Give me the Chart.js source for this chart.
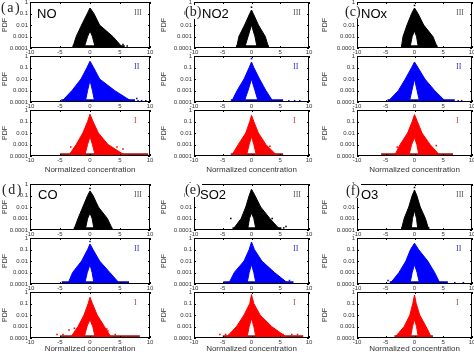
<!DOCTYPE html>
<html><head><meta charset="utf-8">
<script src="https://cdn.jsdelivr.net/npm/chart.js@4"></script>
<style>
body{margin:0;width:474px;height:355px;overflow:hidden;background:#fff;position:relative;}
canvas{position:absolute;}
.t{position:absolute;white-space:nowrap;}
.let{font-family:"Liberation Serif","DejaVu Serif",serif;font-size:14px;line-height:14px;color:#222;background:#fff;padding:0 1px 0 0;}
.sp{font-family:"Liberation Sans",Arial,sans-serif;font-size:13px;line-height:13px;color:#000;}
.rn{font-family:"Liberation Serif",serif;font-size:8px;line-height:8px;}
</style></head><body>
<script>
// ---- axis ticks ----
const xTickValues = [-10, -5, 0, 5, 10];
const xTickLabels = ['-10', '-5', '0', '5', '10'];
const yTickValues = [0.0001, 0.001, 0.01, 0.1, 1];
const yTickLabels = ['0.0001', '0.001', '0.01', '0.1', '1'];
// PDF levels at which the cloud edges were read
const levels = [0.1, 0.01, 0.001, 0.0001];

const panelLetters = ['(a)', '(b)', '(c)', '(d)', '(e)', '(f)'];
const species = ['NO', 'NO2', 'NOx', 'CO', 'SO2', 'O3'];
const regimes = ['III', 'II', 'I'];

// ---- read-off cloud outlines: outer edges (oL,oR) & inner notch (iL,iR) ----
const NO_III  = {peak:0.3,  oL:[-0.45,-1.4,-2.3,-2.9], oR:[0.65,1.6,3.8,5.5], apex:0.003, iL:[-0.4,-1.0], iR:[0.4,0.9], floor:[-2.9,5.8], extra:[[6.2,0.00015],[5.5,0.0002]]};
const NO_II   = {peak:0.35, oL:[-0.5,-1.5,-3.0,-4.8],  oR:[0.6,1.6,4.1,7.1],  apex:0.008, iL:[-0.4,-0.8], iR:[0.4,0.8], floor:[-4.8,7.5], extra:[[8.0,0.00013],[8.6,0.00013],[9.3,0.00013],[7.8,0.0002]]};
const NO_I    = {peak:0.43, oL:[-0.4,-1.2,-2.3,-3.6],  oR:[0.5,1.4,3.0,6.0],  apex:0.005, iL:[-0.4,-0.9], iR:[0.4,0.9], floor:[-5.0,9.7], extra:[[4.5,0.0006],[5.5,0.0004],[-3.2,0.0006]]};
const NO2_III = {peak:0.2,  oL:[-0.3,-1.2,-2.2,-2.6],  oR:[0.3,1.2,2.4,3.0],  apex:0.01,  iL:[-0.6,-1.2], iR:[0.6,1.0], floor:[-2.7,3.0], extra:[[0,0.35]]};
const NO2_II  = {peak:0.3,  oL:[-0.4,-1.3,-2.5,-3.5],  oR:[0.4,1.4,2.5,3.8],  apex:0.01,  iL:[-0.6,-1.3], iR:[0.6,1.2], floor:[-3.6,5.5], extra:[[6.5,0.00013],[7.5,0.00013],[8.4,0.00013],[0,0.6]]};
const NO2_I   = {peak:0.35, oL:[-0.3,-1.0,-2.3,-3.5],  oR:[0.4,1.2,2.5,4.5],  apex:0.005, iL:[-0.4,-0.9], iR:[0.4,0.9], floor:[-3.6,5.5], extra:[[3.2,0.0007]]};
const NOx_III = {peak:0.3,  oL:[-0.5,-1.3,-2.0,-2.3],  oR:[0.6,1.6,3.2,4.0],  apex:0.003, iL:[-0.4,-0.8], iR:[0.35,0.7], floor:[-2.3,4.0], extra:[[0,0.5]]};
const NOx_II  = {peak:0.3,  oL:[-0.5,-1.6,-2.8,-4.7],  oR:[0.6,1.8,3.5,5.5],  apex:0.01,  iL:[-0.45,-0.9], iR:[0.45,0.9], floor:[-4.7,7.0], extra:[[7.6,0.00013],[8.2,0.00013]]};
const NOx_I   = {peak:0.4,  oL:[-0.4,-1.2,-2.5,-3.5],  oR:[0.5,1.3,2.7,4.5],  apex:0.004, iL:[-0.5,-1.0], iR:[0.4,0.8], floor:[-5.8,6.7], extra:[[3.8,0.0008],[-3.0,0.0006]]};
const CO_III  = {peak:0.25, oL:[-0.4,-1.2,-2.0,-2.7],  oR:[0.5,1.4,2.9,3.8],  apex:0.003, iL:[-0.4,-0.8], iR:[0.35,0.7], floor:[-2.7,3.7], extra:[[0,0.4],[3.0,0.0003]]};
const CO_II   = {peak:0.3,  oL:[-0.4,-1.4,-2.9,-3.7],  oR:[0.5,1.6,3.3,5.0],  apex:0.005, iL:[-0.45,-0.9], iR:[0.35,0.7], floor:[-4.7,6.5], extra:[[0,0.5]]};
const CO_I    = {peak:0.35, oL:[-0.3,-1.0,-2.0,-3.3],  oR:[0.4,1.2,2.4,3.6],  apex:0.004, iL:[-0.5,-1.0], iR:[0.45,0.9], floor:[-5.0,8.3], extra:[[-3.5,0.0005],[-4.5,0.0002],[-5.5,0.0002],[4.2,0.0002],[2.8,0.0006],[3.0,0.0004],[-2.6,0.0007]]};
const SO2_III = {peak:0.35, oL:[-0.4,-1.0,-1.8,-3.3],  oR:[0.6,1.6,3.2,5.0],  apex:0.003, iL:[-0.35,-0.7], iR:[0.4,0.8], floor:[-3.3,5.2], extra:[[-3.6,0.001],[3.6,0.001],[6.0,0.0002],[5.6,0.00015]]};
const SO2_II  = {peak:0.45, oL:[-0.4,-1.3,-3.0,-4.0],  oR:[0.5,1.8,4.0,6.5],  apex:0.005, iL:[-0.4,-0.8], iR:[0.4,0.8], floor:[-4.9,7.3], extra:[[6.6,0.0002]]};
const SO2_I   = {peak:0.6,  oL:[-0.3,-1.3,-2.6,-4.5],  oR:[0.4,1.5,3.5,6.3],  apex:0.005, iL:[-0.4,-0.8], iR:[0.4,0.8], floor:[-5.0,9.0], extra:[[-5.5,0.0002],[-4.5,0.0002],[-3.5,0.0002],[-2.5,0.0002],[4.5,0.0002],[5.5,0.0002],[7.0,0.0002],[8.0,0.0002]]};
const O3_III  = {peak:0.3,  oL:[-0.4,-1.0,-1.8,-2.3],  oR:[0.4,1.0,1.9,2.5],  apex:0.005, iL:[-0.35,-0.6], iR:[0.35,0.6], floor:[-2.3,2.6], extra:[[0,0.5]]};
const O3_II   = {peak:0.35, oL:[-0.7,-1.5,-2.7,-4.3],  oR:[0.7,2.3,3.5,4.5],  apex:0.005, iL:[-0.4,-0.8], iR:[0.45,0.9], floor:[-4.3,5.8], extra:[[-4.6,0.0002],[7.0,0.00013],[8.5,0.00013]]};
const O3_I    = {peak:0.55, oL:[-0.3,-0.8,-1.8,-3.5],  oR:[0.3,0.9,2.0,3.0],  apex:0.004, iL:[-0.35,-0.7], iR:[0.35,0.7], floor:[-3.5,3.2], extra:[]};

const panelData = [
  [NO_III, NO_II, NO_I], [NO2_III, NO2_II, NO2_I], [NOx_III, NOx_II, NOx_I],
  [CO_III, CO_II, CO_I], [SO2_III, SO2_II, SO2_I], [O3_III, O3_II, O3_I]
];

// ---- styling / layout ----
const cloudColors = ['#000000', '#0000ff', '#ff0000'];
const floorColors = ['#000000', '#0000dd', '#b01010'];
const regimeColors = ['#555555', '#3030c0', '#c04040'];
const colLeft = [30, 194, 357];
const colW = [120, 115, 115];
const yAxisW = [30, 35, 37];
const rowTops = [[2, 56, 110], [184, 238, 292]];
const plotH = 46;
const FONT = '"Liberation Sans", Arial, sans-serif';
Chart.defaults.font.family = FONT;

const frame = {
  id: 'frame',
  afterDraw(c) {
    const a = c.chartArea, ctx = c.ctx;
    ctx.save();
    ctx.strokeStyle = '#000'; ctx.lineWidth = 1;
    ctx.strokeRect(Math.round(a.left) + 0.5, Math.round(a.top) + 0.5,
      Math.round(a.right - a.left) - 1, Math.round(a.bottom - a.top) - 1);
    const xs = c.scales.x, ys = c.scales.y;
    ctx.beginPath();
    xTickValues.forEach(v => { const p = Math.round(xs.getPixelForValue(v)) + 0.5;
      ctx.moveTo(p, a.bottom); ctx.lineTo(p, a.bottom - 2); ctx.moveTo(p, a.top); ctx.lineTo(p, a.top + 2); });
    yTickValues.forEach(v => { const p = Math.round(ys.getPixelForValue(v)) + 0.5;
      ctx.moveTo(a.left, p); ctx.lineTo(a.left + 2, p); ctx.moveTo(a.right, p); ctx.lineTo(a.right - 2, p); });
    ctx.stroke();
    ctx.restore();
  }
};

function outline(d) {
  const pts = [];
  for (let i = 3; i >= 0; i--) pts.push({x: d.oL[i], y: levels[i]});
  pts.push({x: 0, y: d.peak});
  for (let i = 0; i < 4; i++) pts.push({x: d.oR[i], y: levels[i]});
  pts.push({x: d.iR[1], y: levels[3]});
  pts.push({x: d.iR[0], y: levels[2]});
  pts.push({x: 0, y: d.apex});
  pts.push({x: d.iL[0], y: levels[2]});
  pts.push({x: d.iL[1], y: levels[3]});
  return pts;
}

function addText(cls, text, left, cy, size, color, extra) {
  const el = document.createElement('div');
  el.className = 't ' + cls;
  el.textContent = text;
  el.style.left = left + 'px';
  el.style.top = (cy - size / 2) + 'px';
  if (color) el.style.color = color;
  if (extra) Object.assign(el.style, extra);
  document.body.appendChild(el);
  return el;
}

function makeChart(p, tier) {
  const col = p % 3, row = Math.floor(p / 3);
  const d = panelData[p][tier];
  const L = colLeft[col], W = colW[col], T = rowTops[row][tier], yw = yAxisW[col];
  const isBottom = tier === 2;
  const xh = isBottom ? (row === 0 ? 19 : 16) : 9;
  const padTop = 4, padRight = 6;
  const cw = yw + W + padRight, ch = padTop + plotH + xh;
  const canvas = document.createElement('canvas');
  canvas.width = cw; canvas.height = ch;
  canvas.style.left = (L - yw) + 'px'; canvas.style.top = (T - padTop) + 'px';
  canvas.style.width = cw + 'px'; canvas.style.height = ch + 'px';
  document.body.appendChild(canvas);
  const floorY = 0.00013;
  new Chart(canvas, {
    type: 'scatter',
    data: { datasets: [
      { data: outline(d), showLine: true, fill: 'shape', backgroundColor: cloudColors[tier],
        borderColor: cloudColors[tier], borderWidth: 1, pointRadius: 0, tension: 0 },
      { data: [{x: d.floor[0], y: floorY}, {x: d.floor[1], y: floorY}], showLine: true,
        borderColor: floorColors[tier], borderWidth: 3, pointRadius: 0, fill: false },
      { data: d.extra.map(e => ({x: e[0], y: e[1]})), pointRadius: 1.1, pointStyle: 'rect',
        backgroundColor: cloudColors[tier], borderWidth: 0 }
    ]},
    options: {
      responsive: false, animation: false, devicePixelRatio: 1,
      layout: { padding: { top: padTop, right: padRight, left: 0, bottom: 0 } },
      plugins: { legend: { display: false }, tooltip: { enabled: false } },
      scales: {
        x: {
          type: 'linear', min: -10, max: 10,
          afterBuildTicks: s => { s.ticks = xTickValues.map(v => ({value: v})); },
          ticks: { autoSkip: false, maxRotation: 0, minRotation: 0, padding: 1,
            font: { size: 6 }, color: '#333', callback: (v, i) => xTickLabels[i] },
          grid: { display: false, drawTicks: false }, border: { display: false },
          title: { display: isBottom, text: 'Normalized concentration', font: { size: 8 }, color: '#333', padding: 0 },
          afterFit: s => { s.height = xh; s.paddingLeft = 0; s.paddingRight = 0; }
        },
        y: {
          type: 'logarithmic', min: 0.0001, max: 1,
          afterBuildTicks: s => { s.ticks = yTickValues.map(v => ({value: v})); },
          ticks: { autoSkip: false, padding: 2, font: { size: 6 }, color: '#333',
            callback: (v, i) => yTickLabels[i] },
          grid: { display: false, drawTicks: false }, border: { display: false },
          title: { display: true, text: 'PDF', font: { size: 7 }, color: '#333', padding: { top: 1, bottom: 0 } },
          afterFit: s => { s.width = yw; s.paddingTop = 0; s.paddingBottom = 0; }
        }
      }
    },
    plugins: [frame]
  });
  addText('rn', regimes[tier], L + W - 16, T + 11, 8, regimeColors[tier]);
}

for (let p = 0; p < 6; p++) for (let t = 0; t < 3; t++) makeChart(p, t);

// panel letters and species names
const letterPos = [[1, 8], [185, 12], [345, 12], [2, 190], [185, 190], [346, 191]];
const speciesPos = [[37, 13], [202, 13], [361, 13], [38, 194], [200, 194], [361, 194]];
for (let p = 0; p < 6; p++) {
  const ext = (p % 3 === 0) ? {letterSpacing: '1.5px', background: 'transparent'} : null;
  addText('let', panelLetters[p], letterPos[p][0], letterPos[p][1], 14, null, ext);
  addText('sp', species[p], speciesPos[p][0], speciesPos[p][1], 13);
}
</script>
</body></html>
